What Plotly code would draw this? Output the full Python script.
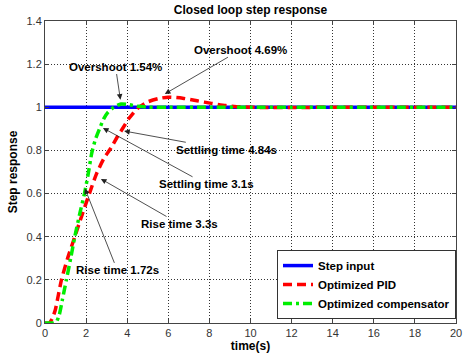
import plotly.graph_objects as go

# ---- data ----
step_t = [0, 20]
step_y = [1, 1]

pid_t = [0, 0.2, 0.35, 0.5, 0.65, 0.8, 1.1, 1.45, 1.8, 2.16, 2.5, 2.85, 3.2, 3.5, 3.8, 4.1,
         4.5, 5.0, 5.5, 6.0, 6.7, 7.4, 8.1, 8.8, 9.5, 10.5, 12, 14, 16, 18, 20]
pid_y = [0, 0, 0.02, 0.06, 0.13, 0.20, 0.30, 0.40, 0.50, 0.60, 0.69, 0.76, 0.81, 0.86, 0.905, 0.95,
         0.995, 1.025, 1.04, 1.047, 1.042, 1.03, 1.018, 1.008, 1.002, 0.999, 0.999, 1.0, 1.0, 1.0, 1.0]

comp_t = [0, 0.4, 0.55, 0.7, 0.85, 1.04, 1.25, 1.45, 1.7, 1.92, 2.1, 2.28, 2.45, 2.65, 2.85,
          3.05, 3.35, 3.7, 4.1, 4.5, 5.0, 6, 8, 10, 12, 14, 16, 18, 20]
comp_y = [0, 0, 0.005, 0.04, 0.11, 0.20, 0.30, 0.40, 0.51, 0.60, 0.69, 0.79, 0.85, 0.90, 0.945,
          0.975, 1.0, 1.0154, 1.012, 1.005, 1.001, 1.0, 1, 1, 1, 1, 1, 1, 1]

# annotations: text, text position (t, y), arrow tip (t, y)
notes = [
    ("Overshoot 1.54%", 3.43, 1.189, 3.67, 1.035),
    ("Overshoot 4.69%", 9.53, 1.267, 5.83, 1.062),
    ("Settling time 4.84s", 8.85, 0.803, 3.85, 0.890),
    ("Settling time 3.1s", 7.85, 0.643, 2.82, 0.904),
    ("Rise time 3.3s", 6.55, 0.459, 2.72, 0.668),
    ("Rise time 1.72s", 3.52, 0.244, 1.94, 0.624),
]

FONT = "Liberation Sans, Arial, sans-serif"

fig = go.Figure()
fig.add_trace(go.Scatter(x=step_t, y=step_y, mode="lines", name="Step input",
                         line=dict(color="#0000ff", width=3.5)))
fig.add_trace(go.Scatter(x=pid_t, y=pid_y, mode="lines", name="Optimized PID",
                         line=dict(color="#ff0000", width=3.5, dash="9px,5px", shape="spline",
                                   smoothing=0.6)))
fig.add_trace(go.Scatter(x=comp_t, y=comp_y, mode="lines", name="Optimized compensator",
                         line=dict(color="#00ee00", width=3.5, dash="9px,4px,3px,4px",
                                   shape="spline", smoothing=0.6)))

for txt, tx, ty, ax_, ay_ in notes:
    fig.add_annotation(x=ax_, y=ay_, ax=tx, ay=ty, xref="x", yref="y", axref="x", ayref="y",
                       text=txt, showarrow=True, arrowhead=2, arrowsize=1.4, arrowwidth=0.8,
                       arrowcolor="#222222", standoff=0,
                       font=dict(family=FONT, size=11.5, color="black", weight="bold"))

axis_common = dict(showline=True, linecolor="#444444", linewidth=1, mirror="ticks",
                   ticks="inside", ticklen=4, tickcolor="#444444",
                   showgrid=True, gridcolor="#333333", griddash="1px,2px", gridwidth=1,
                   zeroline=False, tickfont=dict(family=FONT, size=11, color="#333333"))

fig.update_xaxes(range=[0, 20], dtick=2, tick0=0,
                 title=dict(text="time(s)", standoff=3,
                            font=dict(family=FONT, size=12, color="black", weight="bold")),
                 **axis_common)
fig.update_yaxes(range=[0, 1.4], dtick=0.2, tick0=0,
                 title=dict(text="Step response", standoff=6,
                            font=dict(family=FONT, size=12, color="black", weight="bold")),
                 **axis_common)

fig.update_layout(
    width=474, height=363,
    margin=dict(l=42, r=17, t=21, b=36),
    paper_bgcolor="white", plot_bgcolor="white",
    title=dict(text="Closed loop step response", x=0.5, xref="paper", y=1 - 10 / 363,
               yanchor="middle", font=dict(family=FONT, size=12, color="black", weight="bold")),
    legend=dict(x=1, y=0.013, xanchor="right", yanchor="bottom", bgcolor="white",
                bordercolor="#333333", borderwidth=1,
                font=dict(family=FONT, size=11.5, color="black", weight="bold"),
                tracegroupgap=0, itemwidth=30),
    showlegend=True,
)

fig.write_html("out.html")
